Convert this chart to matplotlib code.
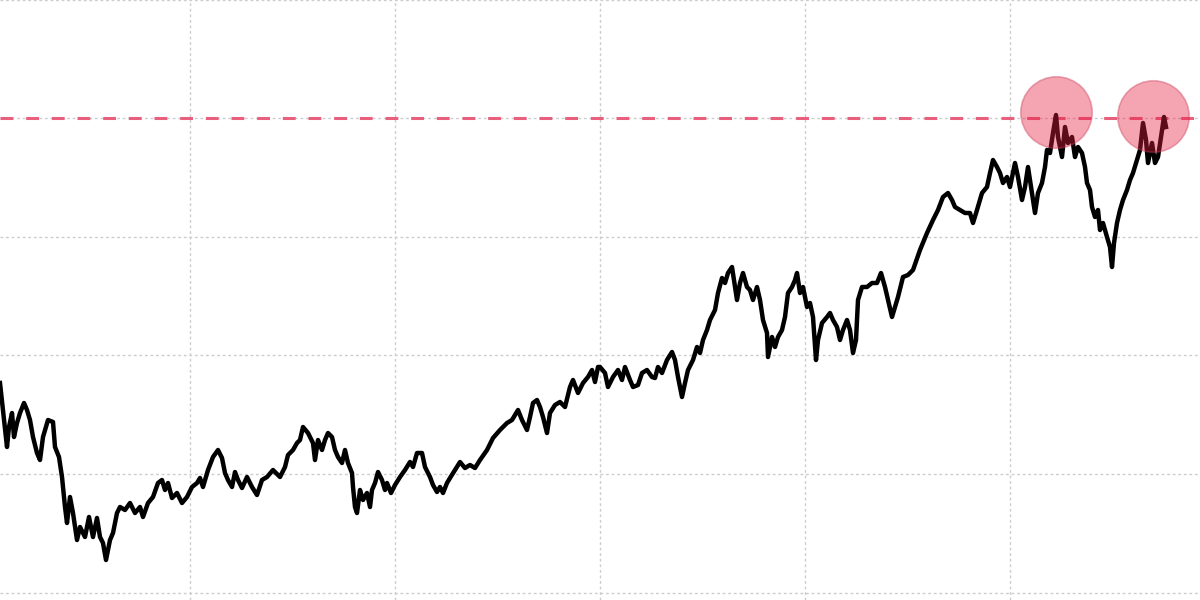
import numpy as np
import matplotlib.pyplot as plt

# trading day index and index level
day = [0, 3, 7, 9, 12, 14, 17, 20, 24, 27, 30, 33, 37, 40, 43, 48, 53, 55, 59, 62,
       65, 67, 70, 73, 77, 80, 85, 89, 93, 97, 100, 103, 106, 110, 113, 117, 120, 125, 130, 135,
       140, 143, 148, 153, 158, 162, 165, 168, 172, 177, 182, 187, 192, 197, 200, 203, 208, 213, 218, 222,
       225, 228, 232, 235, 238, 242, 247, 252, 257, 262, 267, 273, 280, 285, 288, 293, 297, 300, 303, 308,
       313, 315, 318, 322, 325, 328, 332, 335, 338, 342, 345, 348, 352, 353, 355, 357, 360, 363, 367, 370,
       372, 375, 378, 382, 385, 387, 391, 395, 400, 405, 410, 413, 417, 422, 425, 430, 433, 437, 440, 443,
       447, 450, 455, 460, 465, 470, 475, 480, 487, 493, 500, 507, 512, 515, 518, 522, 527, 530, 533, 537,
       540, 543, 547, 550, 555, 560, 565, 570, 573, 578, 583, 588, 592, 595, 598, 600, 605, 608, 613, 618,
       622, 625, 630, 633, 638, 642, 647, 652, 655, 658, 662, 667, 672, 675, 678, 682, 685, 688, 693, 697,
       700, 703, 707, 710, 715, 718, 722, 725, 728, 732, 735, 737, 740, 743, 747, 750, 753, 757, 760, 763,
       767, 768, 772, 775, 778, 782, 785, 788, 792, 795, 797, 800, 803, 807, 810, 813, 816, 818, 822, 827,
       830, 833, 837, 840, 843, 847, 850, 853, 856, 858, 862, 867, 872, 877, 881, 885, 888, 892, 895, 898,
       903, 908, 913, 920, 927, 933, 938, 943, 948, 952, 955, 960, 965, 970, 973, 977, 982, 987, 990, 993,
       997, 1000, 1003, 1007, 1010, 1015, 1018, 1022, 1025, 1028, 1032, 1035, 1038, 1042, 1045, 1047, 1050, 1053, 1056, 1058,
       1062, 1065, 1068, 1072, 1075, 1078, 1082, 1085, 1087, 1090, 1092, 1095, 1098, 1100, 1103, 1107, 1110, 1112, 1114, 1117,
       1120, 1123, 1127, 1130, 1133, 1137, 1140, 1143, 1146, 1148, 1152, 1155, 1158, 1162, 1164, 1166]
level = [217, 190, 153, 173, 187, 163, 177, 187, 197, 190, 180, 163, 147, 140, 163, 180, 178, 153, 143, 123,
         93, 77, 103, 87, 60, 73, 63, 83, 63, 82, 63, 57, 40, 60, 67, 87, 93, 90, 97, 87,
         93, 83, 97, 103, 117, 120, 110, 117, 102, 107, 97, 103, 113, 117, 122, 113, 130, 143, 150, 142,
         127, 120, 113, 128, 120, 112, 123, 113, 105, 120, 123, 130, 123, 133, 145, 150, 157, 160, 173, 167,
         157, 140, 160, 150, 160, 167, 163, 150, 143, 137, 150, 137, 127, 113, 93, 87, 110, 100, 107, 93,
         110, 117, 128, 120, 110, 117, 107, 115, 123, 130, 138, 133, 147, 147, 133, 123, 115, 108, 113, 107,
         117, 122, 130, 138, 132, 135, 132, 140, 150, 162, 170, 177, 180, 185, 190, 180, 170, 183, 197, 200,
         193, 183, 167, 187, 195, 198, 193, 213, 220, 207, 217, 223, 230, 218, 233, 233, 227, 213, 223, 230,
         220, 233, 220, 213, 215, 227, 230, 223, 222, 233, 227, 240, 248, 240, 223, 203, 217, 230, 240, 253,
         247, 260, 270, 280, 290, 307, 322, 317, 327, 333, 313, 300, 317, 327, 313, 310, 300, 313, 300, 280,
         267, 243, 263, 253, 263, 270, 283, 307, 313, 320, 327, 307, 313, 293, 297, 283, 240, 260, 277, 283,
         287, 280, 273, 260, 270, 280, 270, 247, 260, 300, 313, 313, 317, 317, 327, 313, 300, 283, 293, 303,
         323, 325, 330, 350, 367, 380, 390, 403, 407, 400, 393, 390, 387, 387, 377, 390, 407, 413, 427, 440,
         433, 427, 417, 423, 413, 437, 423, 400, 413, 433, 407, 387, 407, 417, 433, 450, 447, 467, 485, 463,
         443, 473, 457, 463, 443, 453, 447, 433, 417, 410, 393, 383, 390, 370, 377, 363, 353, 333, 357, 377,
         390, 400, 410, 420, 427, 440, 450, 477, 460, 437, 457, 437, 443, 470, 483, 473]

# previous high and the two tests of it
resistance = 482
peak_day = [1056, 1153]
peak_level = [488, 484]

grid_days = [190, 395, 600, 805, 1010]
grid_levels = [7, 126, 245, 363, 482, 600]

fig = plt.figure(figsize=(12, 6), dpi=100)
ax = fig.add_axes([0, 0, 1, 1])

ax.plot(day, level, color='black', lw=3.2, solid_joinstyle='round', zorder=3)
ax.axhline(resistance, color='#e8607e', lw=2.2, dashes=(4.2, 4.2), zorder=2)
ax.scatter(peak_day, peak_level, s=2650, color='#e81c40', alpha=0.4,
           edgecolors='#c8405a', linewidths=1.2, zorder=4)

ax.set_xlim(0, 1200)
ax.set_ylim(0, 600)
ax.set_xticks(grid_days)
ax.set_yticks(grid_levels)
ax.grid(True, color='#cccccc', lw=1, linestyle=(0, (2, 2)), zorder=0)
ax.tick_params(length=0, labelbottom=False, labelleft=False)
for s in ax.spines.values():
    s.set_visible(False)

fig.savefig('out.png', dpi=100)
